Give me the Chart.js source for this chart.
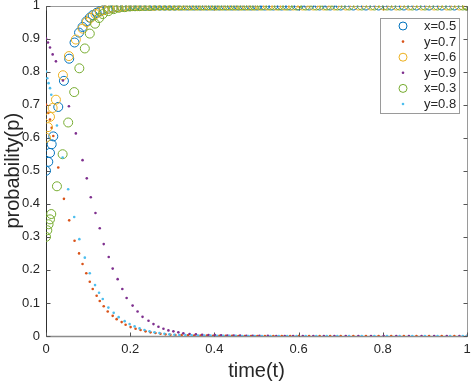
<!DOCTYPE html>
<html>
<head>
<meta charset="utf-8">
<script src="https://cdn.jsdelivr.net/npm/chart.js@4/dist/chart.umd.min.js"></script>
<style>
html,body{margin:0;padding:0;background:#fff;}
canvas{display:block;}
</style>
</head>
<body>
<canvas id="c" width="474" height="383"></canvas>
<script>
// ---- data ----
const seriesLabels = ['x=0.5', 'y=0.7', 'x=0.6', 'y=0.9', 'x=0.3', 'y=0.8'];
const xTickValues = [0, 0.2, 0.4, 0.6, 0.8, 1];
const xTickLabels = ['0', '0.2', '0.4', '0.6', '0.8', '1'];
const yTickValues = [0, 0.1, 0.2, 0.3, 0.4, 0.5, 0.6, 0.7, 0.8, 0.9, 1];
const yTickLabels = ['0', '0.1', '0.2', '0.3', '0.4', '0.5', '0.6', '0.7', '0.8', '0.9', '1'];

// pair A : x=0.5 / y=0.7
const timeA = [0, 0.0054, 0.0095, 0.0135, 0.0173, 0.0291, 0.0426, 0.0551, 0.0678, 0.0785, 0.0868, 0.0957, 0.104, 0.111, 0.1203, 0.1277, 0.1371, 0.1466, 0.1584, 0.1678, 0.1797, 0.1891, 0.201, 0.2128, 0.2246, 0.2364, 0.2482, 0.26, 0.2719, 0.2837, 0.2955, 0.3073,
  0.322, 0.337, 0.352, 0.367, 0.382, 0.397, 0.412, 0.427, 0.442, 0.457, 0.472, 0.487, 0.502, 0.52, 0.54, 0.56, 0.58, 0.60, 0.625, 0.65, 0.675, 0.70, 0.73, 0.76, 0.79, 0.82, 0.85, 0.88, 0.91, 0.94, 0.97, 1.0];
const x05 = [0.50, 0.527, 0.554, 0.58, 0.604, 0.693, 0.772, 0.839, 0.888, 0.918, 0.935, 0.952, 0.963, 0.971, 0.978, 0.983, 0.987, 0.990, 0.993, 0.995, 0.996, 0.997, 0.998, 0.998, 0.999, 0.999, 0.999, 1, 1, 1, 1, 1,
  1, 1, 1, 1, 1, 1, 1, 1, 1, 1, 1, 1, 1, 1, 1, 1, 1, 1, 1, 1, 1, 1, 1, 1, 1, 1, 1, 1, 1, 1, 1, 1];
const y07 = [0.70, 0.675, 0.655, 0.63, 0.605, 0.51, 0.415, 0.35, 0.288, 0.25, 0.218, 0.19, 0.164, 0.142, 0.122, 0.106, 0.09, 0.074, 0.061, 0.051, 0.042, 0.034, 0.027, 0.022, 0.018, 0.014, 0.011, 0.009, 0.007, 0.005, 0.004, 0.003,
  0.0025, 0.002, 0.0015, 0.001, 0.001, 0.0007, 0.0005, 0.0004, 0.0003, 0.0002, 0, 0, 0, 0, 0, 0, 0, 0, 0, 0, 0, 0, 0, 0, 0, 0, 0, 0, 0, 0, 0, 0];

// pair B : x=0.6 / y=0.9
const timeB = [0, 0.0047, 0.0095, 0.0158, 0.0236, 0.0402, 0.0544, 0.0709, 0.0868, 0.0969, 0.1064, 0.1175, 0.1277, 0.1371, 0.149, 0.1584, 0.1702, 0.1813, 0.1915, 0.2057, 0.2175, 0.2293, 0.2435, 0.2553, 0.2671, 0.279, 0.2908, 0.3026, 0.3144, 0.3262,
  0.341, 0.356, 0.371, 0.386, 0.401, 0.416, 0.431, 0.446, 0.461, 0.476, 0.491, 0.507, 0.527, 0.547, 0.567, 0.587, 0.61, 0.635, 0.66, 0.685, 0.712, 0.742, 0.772, 0.802, 0.832, 0.862, 0.892, 0.922, 0.952, 0.982, 1.0];
const x06 = [0.60, 0.632, 0.663, 0.69, 0.715, 0.789, 0.847, 0.897, 0.93, 0.95, 0.963, 0.974, 0.981, 0.986, 0.99, 0.993, 0.995, 0.996, 0.997, 0.998, 0.998, 0.999, 0.999, 0.999, 1, 1, 1, 1, 1, 1,
  1, 1, 1, 1, 1, 1, 1, 1, 1, 1, 1, 1, 1, 1, 1, 1, 1, 1, 1, 1, 1, 1, 1, 1, 1, 1, 1, 1, 1, 1, 1];
const y09 = [0.90, 0.888, 0.873, 0.852, 0.831, 0.773, 0.695, 0.613, 0.532, 0.477, 0.42, 0.372, 0.326, 0.278, 0.239, 0.204, 0.172, 0.142, 0.115, 0.092, 0.074, 0.058, 0.046, 0.036, 0.028, 0.022, 0.017, 0.014, 0.011, 0.008,
  0.006, 0.005, 0.004, 0.003, 0.0025, 0.002, 0.0015, 0.001, 0.001, 0.0007, 0.0005, 0.0004, 0.0003, 0.0002, 0, 0, 0, 0, 0, 0, 0, 0, 0, 0, 0, 0, 0, 0, 0, 0, 0];

// pair C : x=0.3 / y=0.8
const timeC = [0, 0.0031, 0.0061, 0.0095, 0.0125, 0.026, 0.0395, 0.0527, 0.067, 0.0792, 0.0922, 0.104, 0.1165, 0.126, 0.1348, 0.1482, 0.1608, 0.1726, 0.1868, 0.1986, 0.2104, 0.2222, 0.234, 0.2459, 0.2577, 0.2695, 0.2813, 0.2931, 0.305, 0.3168,
  0.331, 0.346, 0.361, 0.376, 0.391, 0.406, 0.421, 0.436, 0.451, 0.466, 0.481, 0.496, 0.513, 0.533, 0.553, 0.573, 0.595, 0.617, 0.642, 0.667, 0.692, 0.72, 0.75, 0.78, 0.81, 0.84, 0.87, 0.90, 0.93, 0.96, 0.99, 1.0];
const x03 = [0.30, 0.32, 0.338, 0.353, 0.369, 0.453, 0.55, 0.646, 0.738, 0.81, 0.87, 0.915, 0.945, 0.962, 0.974, 0.983, 0.989, 0.993, 0.995, 0.997, 0.998, 0.998, 0.999, 0.999, 1, 1, 1, 1, 1, 1,
  1, 1, 1, 1, 1, 1, 1, 1, 1, 1, 1, 1, 1, 1, 1, 1, 1, 1, 1, 1, 1, 1, 1, 1, 1, 1, 1, 1, 1, 1, 1, 1];
const y08 = [0.80, 0.78, 0.765, 0.75, 0.73, 0.637, 0.54, 0.444, 0.36, 0.293, 0.237, 0.19, 0.154, 0.131, 0.112, 0.086, 0.07, 0.057, 0.045, 0.036, 0.029, 0.023, 0.018, 0.014, 0.011, 0.009, 0.007, 0.005, 0.004, 0.003,
  0.0025, 0.002, 0.0015, 0.001, 0.001, 0.0007, 0.0005, 0.0004, 0.0003, 0.0002, 0, 0, 0, 0, 0, 0, 0, 0, 0, 0, 0, 0, 0, 0, 0, 0, 0, 0, 0, 0, 0, 0];

// ---- build chart ----
const colors = ['#0072BD', '#D95319', '#EDB120', '#7E2F8E', '#77AC30', '#4DBEEE'];
const times = [timeA, timeA, timeB, timeB, timeC, timeC];
const values = [x05, y07, x06, y09, x03, y08];
const isCircle = [true, false, true, false, true, false];

function pts(t, v) { return t.map((tt, i) => ({x: tt, y: v[i]})); }

const datasets = seriesLabels.map((lab, i) => ({
  label: lab,
  data: pts(times[i], values[i]),
  showLine: false,
  pointStyle: 'circle',
  pointRadius: isCircle[i] ? 4.5 : 1.3,
  pointBorderWidth: isCircle[i] ? 1 : 0,
  pointBorderColor: colors[i],
  pointBackgroundColor: isCircle[i] ? 'rgba(0,0,0,0)' : colors[i],
  order: 6 - i
}));

Chart.defaults.font.family = '"Liberation Sans", Arial, Helvetica, sans-serif';
Chart.defaults.color = '#262626';

const frame = {
  id: 'frame',
  beforeDatasetsDraw(chart) {
    const {ctx, chartArea: a, scales: {x, y}} = chart;
    ctx.save();
    const L = Math.round(a.left) + 0.5, R = Math.round(a.right) + 0.5;
    const T = Math.round(a.top) + 0.5, B = Math.round(a.bottom) + 0.5;
    ctx.strokeStyle = '#9a9a9a';
    ctx.lineWidth = 1;
    ctx.beginPath(); ctx.moveTo(L, T); ctx.lineTo(R, T); ctx.lineTo(R, B); ctx.stroke();
    ctx.strokeStyle = '#8c8c8c';
    ctx.lineWidth = 1.5;
    ctx.beginPath(); ctx.moveTo(L, B); ctx.lineTo(R, B); ctx.stroke();
    ctx.strokeStyle = '#303030';
    ctx.lineWidth = 1;
    ctx.beginPath(); ctx.moveTo(L, T); ctx.lineTo(L, B); ctx.stroke();
    const tl = 4;
    ctx.strokeStyle = '#555';
    ctx.beginPath();
    x.ticks.forEach(t => {
      const px = Math.round(x.getPixelForValue(t.value)) + 0.5;
      ctx.moveTo(px, B); ctx.lineTo(px, B - tl);
      ctx.moveTo(px, T); ctx.lineTo(px, T + tl);
    });
    y.ticks.forEach(t => {
      const py = Math.round(y.getPixelForValue(t.value)) + 0.5;
      ctx.moveTo(L, py); ctx.lineTo(L + tl, py);
      ctx.moveTo(R, py); ctx.lineTo(R - tl, py);
    });
    ctx.stroke();
    ctx.restore();
  }
};

const legendBox = {
  id: 'legendBox',
  afterDraw(chart) {
    const ctx = chart.ctx;
    const Lx = 380, Ty = 18, Rx = 459, By = 113;
    ctx.save();
    ctx.fillStyle = '#fff';
    ctx.fillRect(Lx, Ty, Rx - Lx, By - Ty);
    ctx.strokeStyle = '#9a9a9a';
    ctx.lineWidth = 1;
    ctx.strokeRect(Lx + 0.5, Ty + 0.5, Rx - Lx, By - Ty);
    ctx.font = '13px "Liberation Sans", Arial, sans-serif';
    ctx.textBaseline = 'middle';
    ctx.textAlign = 'left';
    chart.data.datasets.forEach((ds, i) => {
      const cy = 26 + i * 15.6;
      ctx.beginPath();
      if (isCircle[i]) {
        ctx.arc(403, cy, 4, 0, Math.PI * 2);
        ctx.strokeStyle = colors[i]; ctx.lineWidth = 1; ctx.stroke();
      } else {
        ctx.arc(403, cy, 1.3, 0, Math.PI * 2);
        ctx.fillStyle = colors[i]; ctx.fill();
      }
      ctx.fillStyle = '#262626';
      ctx.fillText(ds.label, 424, cy + 0.5);
    });
    ctx.restore();
  }
};

new Chart(document.getElementById('c'), {
  type: 'scatter',
  data: { datasets },
  options: {
    responsive: false,
    devicePixelRatio: 1,
    animation: false,
    layout: { padding: { top: 5, right: 7, left: 0, bottom: 0 } },
    plugins: { legend: { display: false }, tooltip: { enabled: false } },
    scales: {
      x: {
        type: 'linear', min: 0, max: 1,
        border: { display: false },
        grid: { display: false, drawTicks: false },
        afterBuildTicks: s => { s.ticks = xTickValues.map(v => ({value: v})); },
        ticks: { padding: 6, font: { size: 13 }, color: '#262626', maxRotation: 0,
                 callback: (v, i) => xTickLabels[i] },
        title: { display: true, text: 'time(t)', font: { size: 20 }, color: '#262626', padding: { top: 0, bottom: 0 } },
        afterFit: s => { s.height = 47; s.paddingLeft = 0; s.paddingRight = 0; }
      },
      y: {
        type: 'linear', min: 0, max: 1,
        border: { display: false },
        grid: { display: false, drawTicks: false },
        afterBuildTicks: s => { s.ticks = yTickValues.map(v => ({value: v})); },
        ticks: { padding: 6, font: { size: 13 }, color: '#262626',
                 callback: (v, i) => yTickLabels[i] },
        title: { display: true, text: 'probability(p)', font: { size: 20 }, color: '#262626', padding: { top: 1, bottom: 0 } },
        afterFit: s => { s.width = 46; s.paddingTop = 0; s.paddingBottom = 0; }
      }
    }
  },
  plugins: [frame, legendBox]
});
</script>
</body>
</html>
